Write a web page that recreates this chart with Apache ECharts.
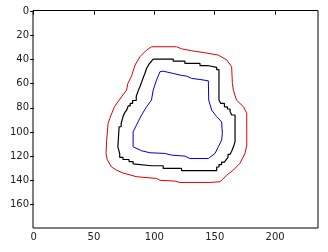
<!DOCTYPE html>
<html>
<head>
<meta charset="utf-8">
<script src="https://cdn.jsdelivr.net/npm/echarts@6/dist/echarts.min.js"></script>
<style>html,body{margin:0;padding:0;background:#fff;}#c{width:328px;height:252px;}</style>
</head>
<body>
<div id="c"></div>
<script>
var xTicks = [0, 50, 100, 150, 200];
var yTicks = [0, 20, 40, 60, 80, 100, 120, 140, 160];

var redContour = [
  [97.6,29.5],[118.4,29.5],[122.5,31.2],[130.8,32.8],[142,34.5],[153,36.4],[160,40.5],[164,46],
  [164.6,60],[165.4,65.4],[168,73.7],[173.7,79],[176.5,84.7],[176.5,111],[175,118],[170.8,126],
  [165.4,131.6],[160,135.7],[154.4,141.2],[146,141.8],[121.2,141.8],[117,140.7],[104.6,140],
  [101.8,138.5],[85,137],[74,134],[68.6,131.6],[64.5,129],[61,123],[60,118],[60.4,108],[61.7,93],
  [63,89],[67,79],[72.8,71],[77,65.4],[78,60],[81,54],[84,44.7],[88,37.8],[93.5,32.3],[97.6,29.5]
];

var blackContour = [
  [99,39.7],[115.6,39.7],[115.6,41.4],[125.3,41.4],[125.3,43.3],[137.8,43.3],[137.8,45.2],[145,45.2],
  [145,46.5],[151.6,46.5],[151.6,48.5],[153.5,48.5],[153.5,73.5],[155,73.5],[155,76.4],[158,76.4],
  [158,79.2],[160.5,79.2],[160.5,81],[162.7,81],[162.7,83],[164,83],[164,86],[166.8,86],[166.8,108],
  [165.5,108],[165.5,112.3],[164,112.3],[164,116],[162.7,116],[162.7,118.5],[161,118.5],[161,121],
  [159.5,121],[159.5,123],[158,123],[158,125],[155.7,125],[155.7,127],[153.5,127],[153.5,129],
  [151.6,129],[151.6,132],[122.5,132],[122.5,130.2],[107.3,130.2],[107.3,128],[97.6,128],[97.6,126.5],
  [82.4,126.5],[82.4,124.5],[79,124.5],[79,122.8],[74,122.8],[74,121],[71.3,121],[71.3,118],
  [69.8,118],[69.8,112.3],[70.8,112.3],[70.8,95.7],[72.5,95.7],[72.5,93],[74,93],[74,87.5],
  [75.5,87.5],[75.5,84],[77,84],[77,82],[78.3,82],[78.3,78.5],[80,78.5],[80,76.4],[82,76.4],
  [82,74],[85,74],[85,70.5],[86.6,70.5],[86.6,66],[88,66],[88,62.6],[89.4,62.6],[89.4,59],
  [90.8,59],[90.8,55],[92,55],[92,52],[93.5,52],[93.5,47.5],[94.9,47.5],[94.9,45],[96,45],
  [96,43.3],[97.6,43.3],[97.6,41.5],[99,41.5],[99,39.7]
];

var blueContour = [
  [104.6,50.2],[107.3,49.7],[115.6,51.6],[122.5,53.2],[126.7,53.8],[130.8,55.7],[137.8,56.6],
  [144.7,57.7],[145,73.7],[147.5,82],[151.6,87.4],[155.7,91.6],[156.3,101.2],[155.7,106.8],
  [153,112.3],[150.2,117.8],[144.7,122],[129.5,122],[125.3,120],[114.2,119.2],[108.7,117.8],
  [96.3,117.2],[89.4,115.6],[82.4,112.3],[82.4,99.9],[85.2,94.3],[89.4,86],[93.5,79.2],[97.6,73.7],
  [99,65.4],[101.8,57.1],[104.6,50.2]
];

var chart = echarts.init(document.getElementById('c'), null, {renderer: 'canvas'});
var labelStyle = {color: '#222', fontSize: 10, fontFamily: 'DejaVu Sans'};
function mk(data, color, width) {
  return {type: 'line', data: data, showSymbol: false, symbol: 'none', animation: false,
    lineStyle: {color: color, width: width}, z: 3};
}
chart.setOption({
  backgroundColor: '#fff',
  animation: false,
  grid: {left: 33, right: 10, top: 10.5, bottom: 24, show: true, borderColor: '#000', borderWidth: 1, backgroundColor: '#fff'},
  xAxis: {
    type: 'value', min: -0.5, max: 235.5,
    axisLine: {show: false},
    splitLine: {show: false},
    axisTick: {show: true, length: 3.5, lineStyle: {color: '#000'}, customValues: xTicks},
    axisLabel: Object.assign({margin: 4, customValues: xTicks}, labelStyle)
  },
  yAxis: {
    type: 'value', inverse: true, min: -0.5, max: 179.5,
    axisLine: {show: false},
    splitLine: {show: false},
    axisTick: {show: true, length: 3.5, lineStyle: {color: '#000'}, customValues: yTicks},
    axisLabel: Object.assign({margin: 4, customValues: yTicks}, labelStyle)
  },
  series: [
    mk(redContour, '#e00000', 1),
    mk(blackContour, '#000000', 1.2),
    mk(blueContour, '#0000d0', 1)
  ]
});
</script>
</body>
</html>
